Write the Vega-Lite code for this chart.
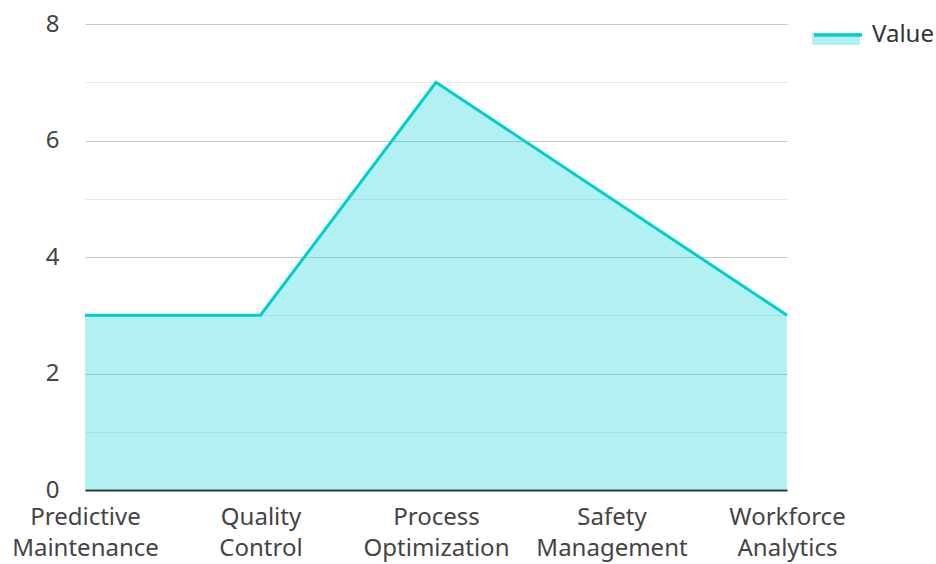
{
  "$schema": "https://vega.github.io/schema/vega-lite/v6.json",
  "width": 702,
  "height": 466,
  "autosize": {"type": "none"},
  "padding": {"left": 85, "top": 24, "right": 149, "bottom": 74},
  "background": "white",
  "config": {
    "font": "Noto Sans",
    "view": {"stroke": null},
    "axis": {"labelFont": "Noto Sans", "labelFontSize": 24, "labelColor": "#444"},
    "legend": {"labelFont": "Noto Sans", "labelFontSize": 24, "labelColor": "#333", "padding": 0}
  },
  "data": {
    "values": [
      {"category": "Predictive Maintenance", "value": 3, "series": "Value"},
      {"category": "Quality Control", "value": 3, "series": "Value"},
      {"category": "Process Optimization", "value": 7, "series": "Value"},
      {"category": "Safety Management", "value": 5, "series": "Value"},
      {"category": "Workforce Analytics", "value": 3, "series": "Value"}
    ]
  },
  "encoding": {
    "x": {
      "field": "category",
      "type": "ordinal",
      "sort": null,
      "scale": {"type": "point", "padding": 0},
      "axis": {
        "title": null,
        "labelAngle": 0,
        "labelExpr": "split(datum.label, ' ')",
        "ticks": false,
        "grid": false,
        "domainColor": "#333",
        "domainWidth": 2,
        "labelPadding": 15,
        "labelLineHeight": 31
      }
    },
    "y": {
      "field": "value",
      "type": "quantitative",
      "scale": {"domain": [0, 8], "nice": false},
      "axis": {
        "title": null,
        "values": [0, 1, 2, 3, 4, 5, 6, 7, 8],
        "labelExpr": "datum.value % 2 === 0 ? datum.label : ''",
        "domain": false,
        "ticks": false,
        "labelPadding": 26,
        "gridColor": {"condition": {"test": "datum.value % 2 === 0", "value": "#c8c8c8"}, "value": "#e8e8e8"}
      }
    }
  },
  "layer": [
    {
      "mark": {"type": "area", "fillOpacity": 0.3},
      "encoding": {
        "fill": {
          "field": "series",
          "type": "nominal",
          "scale": {"range": ["#00CED1"]},
          "legend": {
            "title": null,
            "orient": "none",
            "legendX": 727,
            "legendY": -15,
            "symbolType": "M-1,0L1,0L1,0.5L-1,0.5Z",
            "symbolSize": 2304,
            "symbolOpacity": 0.3,
            "symbolStrokeWidth": 0,
            "labelExpr": "''",
            "labelOffset": 8
          }
        }
      }
    },
    {
      "mark": {"type": "line", "strokeWidth": 3},
      "encoding": {
        "stroke": {
          "datum": "Value",
          "scale": {"range": ["#00CED1"]},
          "legend": {
            "title": null,
            "orient": "none",
            "legendX": 727,
            "legendY": -15,
            "symbolType": "M-1,0L1,0",
            "symbolSize": 2304,
            "symbolStrokeWidth": 3.5,
            "labelOffset": 8
          }
        }
      }
    }
  ]
}
